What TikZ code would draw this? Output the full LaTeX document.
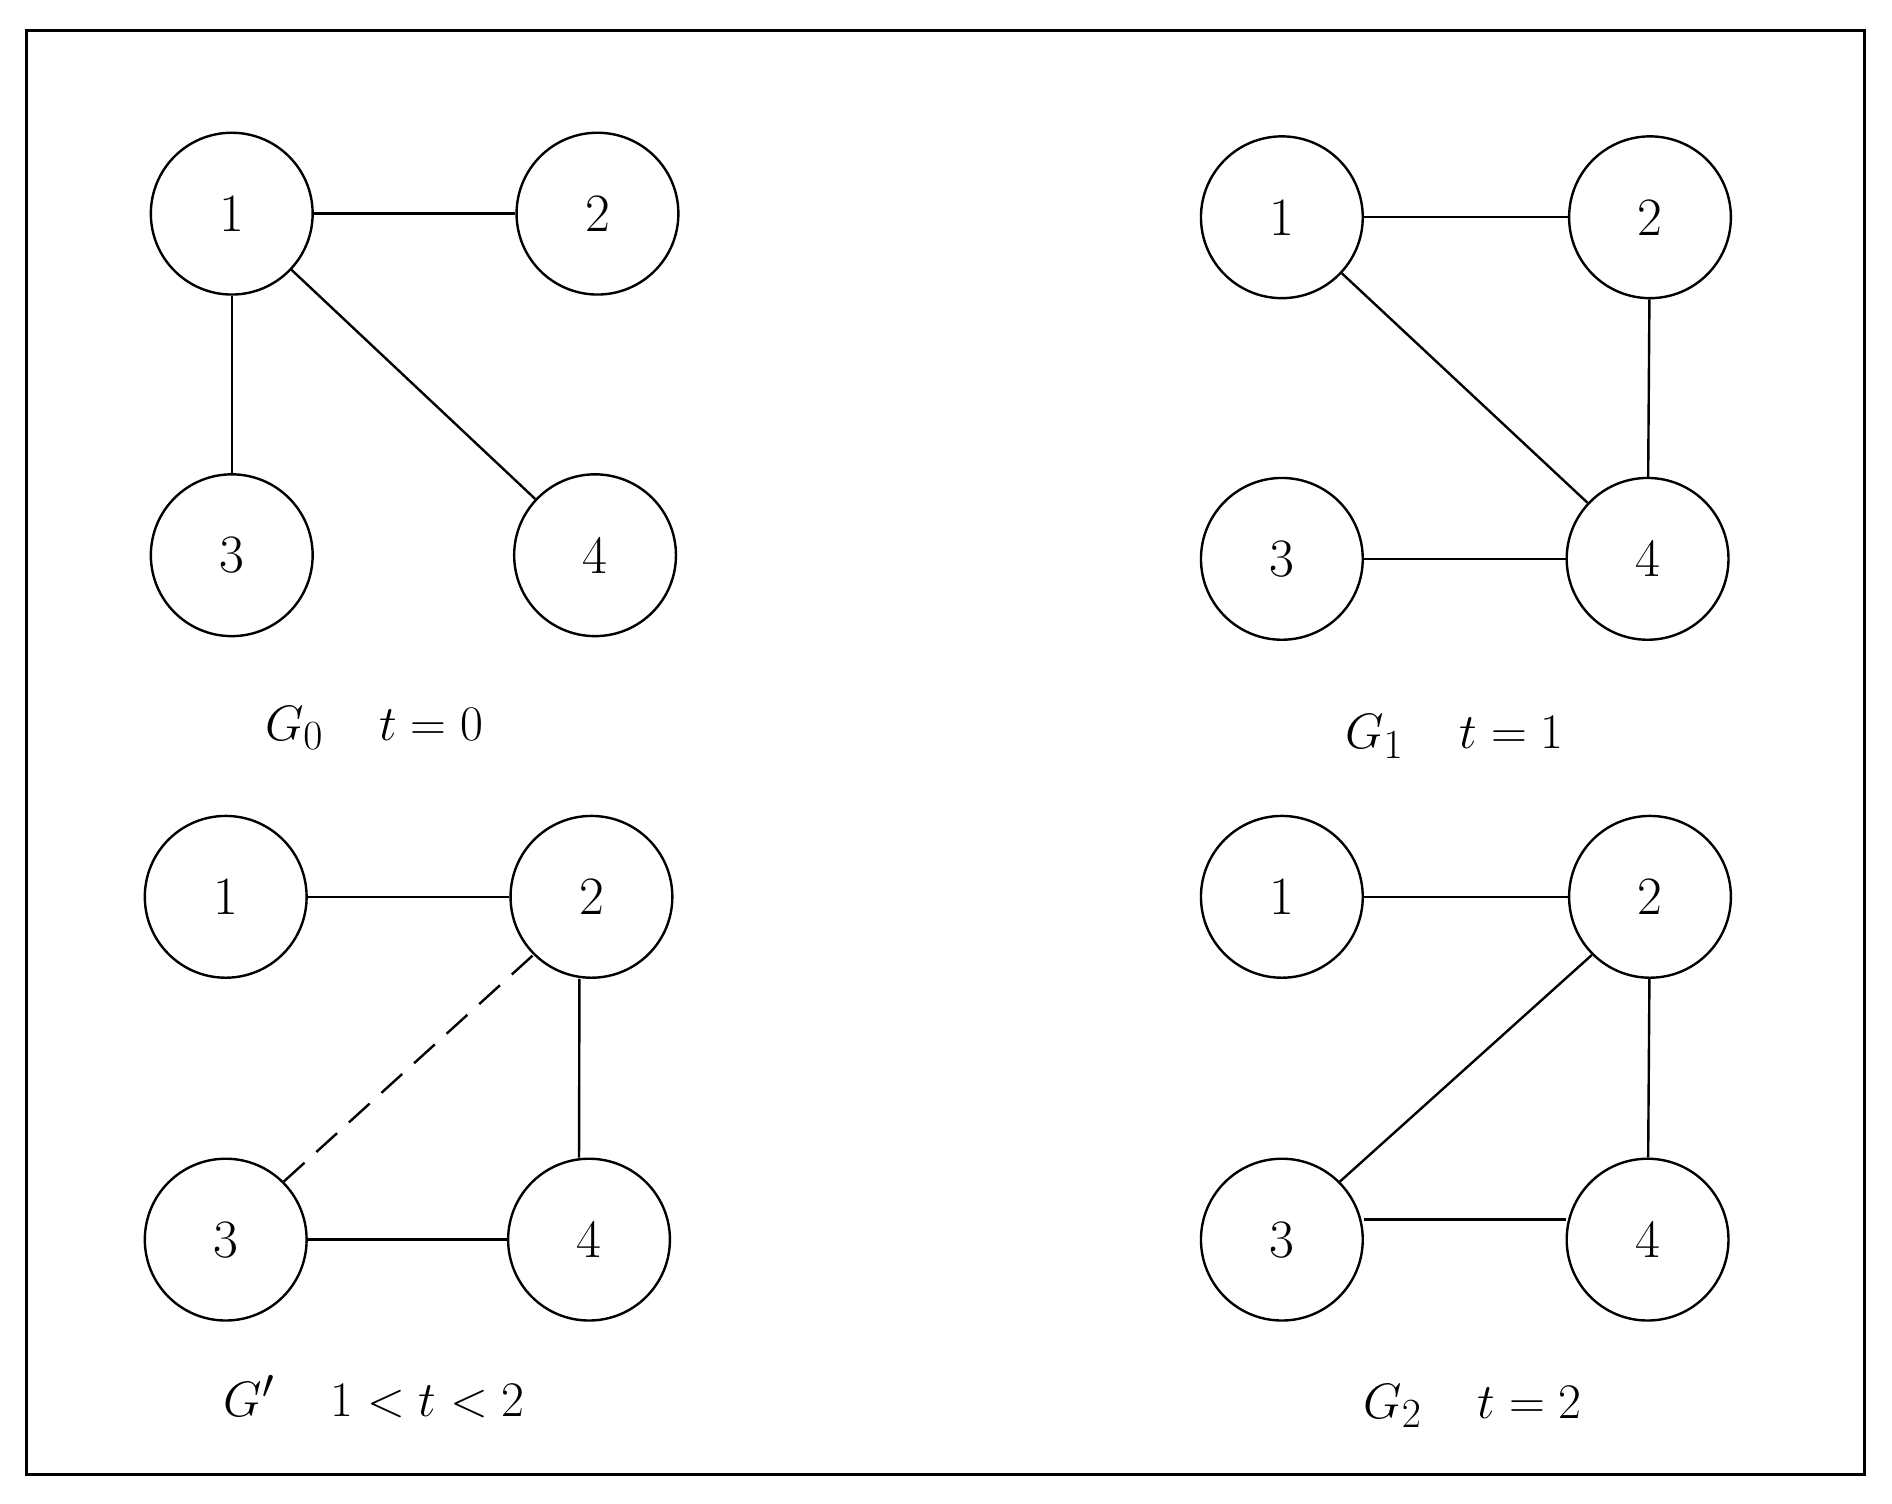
\documentclass[tikz,border=0pt]{standalone}
\begin{document}
\begin{tikzpicture}[x=0.6035pt,y=-0.6035pt,
  v/.style={circle,draw,line width=1.2pt,minimum size=80.9pt,inner sep=0pt,font=\fontsize{27}{31}\selectfont},
  e/.style={line width=1.2pt},
  lab/.style={font=\fontsize{28}{32}\selectfont}]
\useasboundingbox (0,0) rectangle (1567.5,1246);
\draw[line width=1.5pt] (22,25) rectangle (1545,1222);
% G0
\node[v] (a1) at (192,177) {1};
\node[v] (a2) at (495,177) {2};
\node[v] (a3) at (192,460) {3};
\node[v] (a4) at (493,460) {4};
\draw[e] (a1)--(a2); \draw[e] (a1)--(a3); \draw[e] (a1)--(a4);
\node[lab] (la) at (310,603) {$G_0\quad t=0$};
% G1
\node[v] (b1) at (1062,180) {1};
\node[v] (b2) at (1367,180) {2};
\node[v] (b3) at (1062,463) {3};
\node[v] (b4) at (1365,463) {4};
\draw[e] (b1)--(b2); \draw[e] (b1)--(b4); \draw[e] (b2)--(b4); \draw[e] (b3)--(b4);
\node[lab] (lb) at (1205,610) {$G_1\quad t=1$};
% G'
\node[v] (c1) at (187,743) {1};
\node[v] (c2) at (490,743) {2};
\node[v] (c3) at (187,1027) {3};
\node[v] (c4) at (488,1027) {4};
\draw[e] (c1)--(c2);
\draw[e] ([xshift=-6pt]c2.south) -- ([xshift=-5pt]c4.north);
\draw[e] (c3)--(c4);
\draw[e,dash pattern=on 14pt off 8pt] (c3.north east)--(c2.south west);
\node[lab] (lc) at (310,1157) {$G'\quad 1<t<2$};
% G2
\node[v] (d1) at (1062,743) {1};
\node[v] (d2) at (1367,743) {2};
\node[v] (d3) at (1062,1027) {3};
\node[v] (d4) at (1365,1027) {4};
\draw[e] (d1)--(d2); \draw[e] (d2)--(d4); \draw[e] (d3.north east)--(d2.south west);
\draw[e] ([yshift=10pt]d3.east) -- ([yshift=10pt]d4.west);
\node[lab] (ld) at (1220,1165) {$G_2\quad t=2$};
\end{tikzpicture}
\end{document}
